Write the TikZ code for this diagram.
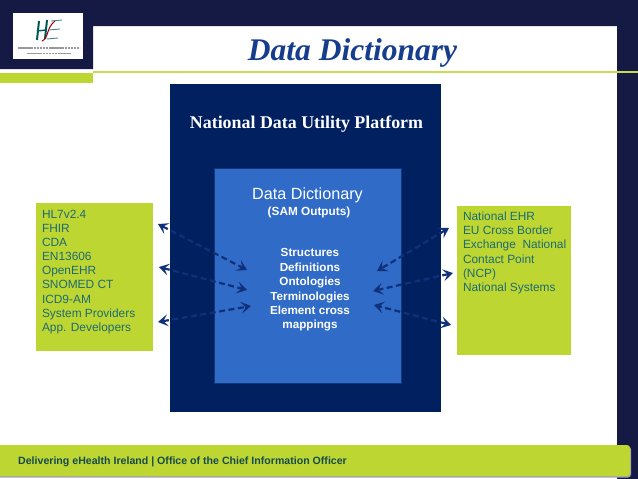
\documentclass[tikz,border=0pt]{standalone}
\usepackage{fontspec}
\setmainfont{Liberation Sans}
\newfontfamily\titlefont{Liberation Serif}
\usepackage{tikz}
\usetikzlibrary{arrows.meta}
\definecolor{framenavy}{HTML}{151A45}
\definecolor{platformblue}{HTML}{00205F}
\definecolor{innerblue}{HTML}{2F6BC7}
\definecolor{hsegreen}{HTML}{BDD631}
\definecolor{listteal}{HTML}{1E6B74}
\definecolor{arrowblue}{HTML}{10307A}
\definecolor{titleblue}{HTML}{163C8C}

\begin{document}
\begin{tikzpicture}[x=1pt,y=-1pt,>={Stealth[length=10pt,width=12pt,inset=4.5pt]},
  greenbox/.style={fill=hsegreen,inner sep=0pt},
  listtext/.style={anchor=north west,inner sep=0pt,align=left,text=listteal,font=\fontsize{11.9}{14.15}\selectfont},
  centretext/.style={inner sep=0pt,align=center,text=white},
  link/.style={<->,draw=arrowblue,line width=2.2pt,dash pattern=on 6pt off 3.5pt}]
  \useasboundingbox (0,0) rectangle (638,479);

  %frame
  \fill[framenavy] (0,0) -- (638,0) -- (638,479) -- (617,479) -- (617,26) -- (93,26) -- (93,69) -- (0,69) -- cycle;
  \fill[hsegreen] (0,73) rectangle (93,83);
  \draw[hsegreen!85!white,line width=1.4pt] (93,72) -- (638,72);

  %logo
  \fill[white] (12.5,13) rectangle (83,59);
  \draw[teal!70!black,line width=2pt] (39,21) -- (37,40) (47,20) -- (45,39);
  \draw[teal!70!black,line width=1.4pt] (37,31) -- (46,30);
  \draw[red!60!black,line width=1pt] (42,41) .. controls (49,38) and (46,28) .. (55,21);
  \draw[teal!60!black!70,line width=.9pt] (51,21) -- (62,20) (49,30) -- (60,29) (47,39) -- (58,38);
  \draw[gray!80,line width=1.6pt,dash pattern=on 2.5pt off .6pt] (18,48) -- (80,48);
  \draw[gray!80,line width=1.6pt,dash pattern=on 2.5pt off .6pt] (27,53.5) -- (71,53.5);

  %title
  \node[inner sep=0pt,text=titleblue,font=\titlefont\bfseries\itshape\fontsize{31.5}{36}\selectfont] (title) at (352.5,53) {Data Dictionary};

  %platform
  \fill[platformblue] (170,84) rectangle (441,412);
  \node[centretext,font=\titlefont\bfseries\fontsize{17.9}{21}\selectfont] (platformname) at (306.5,124.5) {National Data Utility Platform};
  \node[fill=innerblue,draw=platformblue!70!innerblue,inner sep=0pt,minimum width=187pt,minimum height=215pt] (dictionary) at (307.5,275.5) {};
  \node[centretext,font=\fontsize{16.2}{19}\selectfont] (dictname) at (307.5,195) {Data Dictionary};
  \node[centretext,font=\bfseries\fontsize{11.8}{14}\selectfont] (samoutputs) at (309,212) {(SAM Outputs)};
  \node[centretext,anchor=north,font=\bfseries\fontsize{11.7}{14.4}\selectfont] (contents) at (310,248.5) {Structures\\Definitions\\Ontologies\\Terminologies\\Element cross\\mappings};

  %left box
  \node[greenbox,minimum width=117pt,minimum height=148pt] (standards) at (94.5,277) {};
  \node[listtext,at=(standards.north west),xshift=6pt,yshift=-6.8pt] (standardslist) {HL7v2.4\\FHIR\\CDA\\EN13606\\OpenEHR\\SNOMED CT\\ICD9-AM\\System Providers\\App. Developers};

  %right box
  \node[greenbox,minimum width=114pt,minimum height=149pt] (national) at (514,280.5) {};
  \node[listtext,at=(national.north west),xshift=6pt,yshift=-6pt] (nationallist) {National EHR\\EU Cross Border\\Exchange~~National\\Contact Point\\(NCP)\\National Systems};

  %arrow ends
  \coordinate (la) at (158,224);
  \coordinate (lb) at (159,267);
  \coordinate (lc) at (158,322);
  \coordinate (ca) at (247,270);
  \coordinate (cb) at (247,290);
  \coordinate (cc) at (251,306);
  \coordinate (ra) at (449,228);
  \coordinate (rb) at (453,273);
  \coordinate (rc) at (451,325);
  \coordinate (da) at (377,271);
  \coordinate (db) at (373,291);
  \coordinate (dc) at (374,305);

  %arrows
  \draw[link] (la) -- (ca);
  \draw[link] (lb) -- (cb);
  \draw[link] (lc) -- (cc);
  \draw[link] (ra) -- (da);
  \draw[link] (rb) -- (db);
  \draw[link] (rc) -- (dc);

  %footer
  \fill[gray!70,rounded corners=3pt] (-5,446.5) rectangle (631,477.5);
  \fill[hsegreen,rounded corners=3pt] (-5,445) rectangle (630,476);
  \node[anchor=west,inner sep=0pt,text=listteal!70!black,font=\bfseries\fontsize{10.6}{12}\selectfont] (footertext) at (18,461.5) {Delivering eHealth Ireland | Office of the Chief Information Officer};
\end{tikzpicture}
\end{document}
